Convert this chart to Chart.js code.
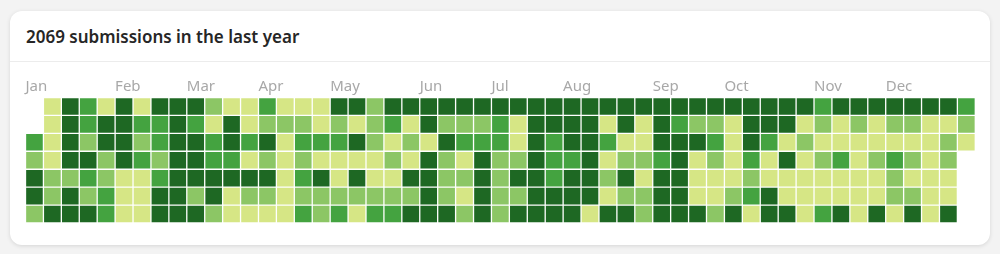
<!DOCTYPE html>
<html>
<head>
    <meta charset="UTF-8">
    <title>Submissions heatmap</title>
    <script src="https://cdn.jsdelivr.net/npm/chart.js@4.4.1/dist/chart.umd.min.js"></script>
    <style type="text/css">
        body {
            margin: 0;
            background: #f3f3f3;
            font-family: "Noto Sans", "Open Sans", sans-serif;
        }
        #card {
            position: absolute;
            left: 10px;
            top: 11px;
            width: 980px;
            height: 234px;
            background: #fff;
            border-radius: 12px;
            box-shadow: 0 1px 4px rgba(0, 0, 0, 0.12);
        }
        #title {
            position: absolute;
            left: 16px;
            top: 14px;
            margin: 0;
            font-size: 17px;
            font-weight: 600;
            line-height: 24px;
            color: #262626;
        }
        #divider {
            position: absolute;
            left: 0;
            right: 0;
            top: 50px;
            height: 1px;
            background: #ececec;
        }
        #heat {
            position: absolute;
            left: 0;
            top: 51px;
        }
    </style>
</head>
<body>

<div id="card">
    <p id="title">2069 submissions in the last year</p>
    <div id="divider"></div>
    <canvas id="heat" width="980" height="183"></canvas>
</div>

<script>
    // activity level per week column (0 = none, 4 = most), one array per weekday row
    const sun = [0,1,4,3,1,4,1,4,4,4,2,1,1,3,1,1,1,4,4,2,4,4,4,4,4,4,4,4,4,4,4,4,4,4,4,4,4,4,4,4,4,4,4,4,3,4,4,4,4,4,4,4,3];
    const mon = [0,1,4,3,4,4,3,3,4,3,1,4,1,2,2,2,1,2,1,2,3,1,4,2,2,2,3,1,4,4,4,4,1,4,1,4,3,2,2,1,4,4,4,1,2,1,2,1,2,2,1,1,2];
    const tue = [3,1,4,2,4,4,2,3,4,4,3,4,3,4,1,3,3,3,4,2,1,2,1,4,3,3,3,1,4,3,4,4,3,1,1,4,4,4,3,1,4,3,1,2,1,1,1,1,1,1,1,2,1];
    const wed = [2,1,4,4,2,4,3,2,4,4,3,3,1,2,1,2,1,1,1,1,2,1,4,2,1,4,2,2,4,3,3,4,1,2,2,3,4,1,2,1,3,1,4,1,2,3,1,2,3,2,1,2,0];
    const thu = [4,2,2,3,2,1,1,3,4,4,4,4,4,4,1,3,4,1,4,1,1,4,4,2,2,4,2,4,4,3,4,4,2,4,1,4,4,1,1,1,2,1,1,1,1,1,1,1,2,1,1,1,0];
    const fri = [4,2,4,2,3,1,1,4,4,2,4,1,2,2,1,2,2,2,2,2,2,2,4,2,1,4,2,2,4,4,4,4,1,2,2,4,4,1,1,2,3,4,1,1,1,1,1,1,2,2,1,1,0];
    const sat = [2,4,4,4,3,1,1,4,4,4,2,1,1,1,1,3,2,3,1,3,3,4,4,4,2,4,2,4,4,4,4,1,4,4,2,4,4,4,2,4,1,4,4,1,3,4,1,4,1,4,1,4,0];

    const months = ['Jan', 'Feb', 'Mar', 'Apr', 'May', 'Jun', 'Jul', 'Aug', 'Sep', 'Oct', 'Nov', 'Dec'];
    const monthStartWeek = [0, 5, 9, 13, 17, 22, 26, 30, 35, 39, 44, 48];

    const levelColors = ['#d6e685', '#8cc665', '#44a340', '#1e6823'];

    const rows = [sun, mon, tue, wed, thu, fri, sat];

    // one dataset per level so each gets its own colour
    const datasets = levelColors.map(function (color, i) {
        const points = [];
        rows.forEach(function (row, day) {
            row.forEach(function (level, week) {
                if (level === i + 1) {
                    points.push({ x: week, y: day });
                }
            });
        });
        return {
            label: 'level ' + (i + 1),
            data: points,
            pointStyle: 'rect',
            pointRadius: 11.74,
            pointHoverRadius: 11.74,
            backgroundColor: color,
            borderWidth: 0
        };
    });

    new Chart(document.getElementById('heat'), {
        type: 'scatter',
        data: { datasets: datasets },
        options: {
            responsive: false,
            animation: false,
            events: [],
            layout: {
                padding: { left: 15.5, right: 14.7, top: 0, bottom: 22 }
            },
            plugins: {
                legend: { display: false },
                tooltip: { enabled: false }
            },
            scales: {
                x: {
                    type: 'linear',
                    position: 'top',
                    min: -0.5,
                    max: 52.5,
                    grid: { display: false, drawTicks: false },
                    border: { display: false },
                    ticks: {
                        align: 'start',
                        padding: 2,
                        color: '#a8a8a8',
                        font: { family: '"Noto Sans", "Open Sans", sans-serif', size: 15 },
                        callback: function (value) {
                            const idx = monthStartWeek.indexOf(value + 0.5);
                            return idx >= 0 ? months[idx] : '';
                        }
                    },
                    afterBuildTicks: function (scale) {
                        scale.ticks = monthStartWeek.map(function (w) {
                            return { value: w - 0.5 };
                        });
                    },
                    afterFit: function (scale) {
                        scale.height = 35.5;
                    }
                },
                y: {
                    type: 'linear',
                    min: -0.5,
                    max: 6.5,
                    reverse: true,
                    display: false
                }
            }
        }
    });
</script>
</body>
</html>
